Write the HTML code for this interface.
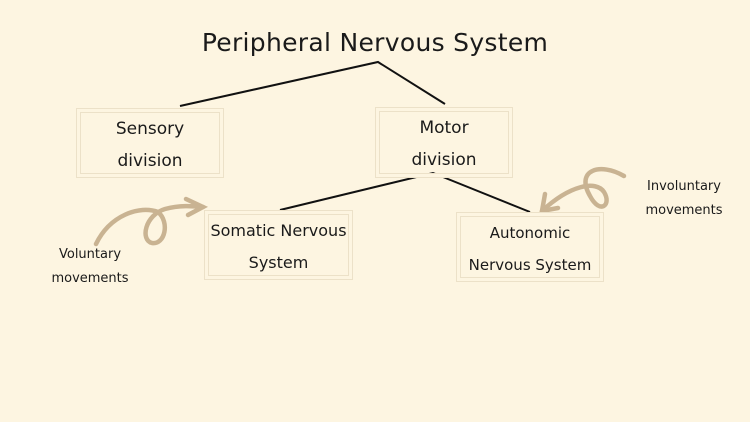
<!DOCTYPE html>
<html><head><style>
body{margin:0;width:750px;height:422px;background:#fdf5e1;position:relative;overflow:hidden;font-family:"DejaVu Sans","Liberation Sans",sans-serif;color:#1a1a1a}
.b{position:absolute;border:1px solid #ece1c8;box-shadow:inset 0 0 0 3px #fdf5e1,inset 0 0 0 4px #ece1c8;display:flex;align-items:center;justify-content:center;text-align:center;font-size:17px;line-height:32px;padding-top:3px;box-sizing:border-box}
.t{position:absolute;font-size:13px;text-align:center;line-height:24px}
</style></head><body>
<svg width="750" height="422" style="position:absolute;left:0;top:0">
<g stroke="#111" stroke-width="2" fill="none">
<polyline points="180,106 378,62 445,104"/>
<polyline points="280,210 433,173 530,212"/>
</g>
<g stroke="#c9b392" stroke-width="4.5" fill="none" stroke-linecap="round">
<path d="M96,244 C110,215 140,205 158,212 C170,222 165,245 152,243 C140,240 145,215 165,209 C180,205 192,206 203,207"/>
<path d="M186,199 L203,207 L188,215"/>
<path d="M624,176 C600,162 575,170 590,196 C600,215 612,205 604,192 C596,180 570,185 542,211"/>
<path d="M545,194 L542,211 L558,208"/>
</g>
</svg>
<div style="position:absolute;left:0;width:750px;top:28px;text-align:center;font-size:25px;letter-spacing:0.3px">Peripheral Nervous System</div>
<div class="b" style="left:76px;top:108px;width:148px;height:70px">Sensory<br>division</div>
<div class="b" style="left:375px;top:107px;width:138px;height:71px">Motor<br>division</div>
<div class="b" style="left:204px;top:210px;width:149px;height:70px;font-size:16px">Somatic Nervous<br>System</div>
<div class="b" style="left:456px;top:212px;width:148px;height:70px;font-size:15px">Autonomic<br>Nervous System</div>
<div class="t" style="left:40px;top:243px;width:100px">Voluntary<br>movements</div>
<div class="t" style="left:634px;top:175px;width:100px">Involuntary<br>movements</div>
</body></html>
